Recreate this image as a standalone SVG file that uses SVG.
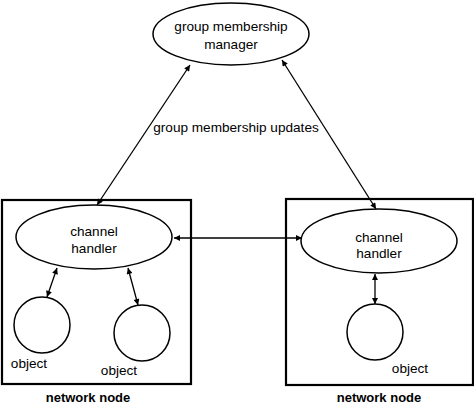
<svg xmlns="http://www.w3.org/2000/svg" width="474" height="404" viewBox="0 0 474 404">
<style>
.sh{fill:#fff;stroke:#000;stroke-width:1.5}
.box{fill:#fff;stroke:#000;stroke-width:2.2}
.t{font-family:"Liberation Sans",Arial,sans-serif;font-size:13.6px;fill:#000;text-anchor:middle}
.b{font-family:"Liberation Sans",Arial,sans-serif;font-size:13px;font-weight:bold;fill:#000;text-anchor:middle}
.c{stroke:#000;stroke-width:1.3;fill:none;marker-start:url(#a);marker-end:url(#a)}
</style>
<defs>
<marker id="a" viewBox="0 0 10 10" refX="10" refY="5" markerWidth="8" markerHeight="6" markerUnits="userSpaceOnUse" orient="auto-start-reverse">
<path d="M0,0 L10,5 L0,10 z" fill="#000"/>
</marker>
</defs>
<g id="leftNode">
<rect class="box" x="2" y="200" width="189" height="184"/>
<text class="b" x="88" y="402">network node</text>
</g>
<g id="rightNode">
<rect class="box" x="286" y="199" width="187" height="186"/>
<text class="b" x="379" y="402">network node</text>
</g>
<g id="manager">
<ellipse class="sh" cx="231" cy="34" rx="78" ry="31"/>
<text class="t" x="231" y="31">group membership</text>
<text class="t" x="231" y="49">manager</text>
</g>
<g id="leftHandler">
<ellipse class="sh" cx="94" cy="237" rx="78" ry="32"/>
<text class="t" x="94" y="236">channel</text>
<text class="t" x="94" y="253">handler</text>
</g>
<g id="rightHandler">
<ellipse class="sh" cx="379" cy="241" rx="78" ry="32"/>
<text class="t" x="379" y="242">channel</text>
<text class="t" x="379" y="258">handler</text>
</g>
<g id="leftObject1">
<circle class="sh" cx="42" cy="325" r="28"/>
<text class="t" x="29" y="368">object</text>
</g>
<g id="leftObject2">
<circle class="sh" cx="142" cy="333" r="28"/>
<text class="t" x="119" y="375">object</text>
</g>
<g id="rightObject">
<circle class="sh" cx="375" cy="332" r="28"/>
<text class="t" x="410" y="373">object</text>
</g>
<g id="connectors">
<line class="c" x1="97" y1="205" x2="190" y2="65"/>
<line class="c" x1="282" y1="60" x2="376" y2="209"/>
<line class="c" x1="174" y1="238" x2="302" y2="238"/>
<line class="c" x1="57" y1="268" x2="47" y2="297"/>
<line class="c" x1="128" y1="268" x2="138" y2="305"/>
<line class="c" x1="375" y1="274" x2="375" y2="304"/>
<text class="t" x="236" y="132">group membership updates</text>
</g>
</svg>
